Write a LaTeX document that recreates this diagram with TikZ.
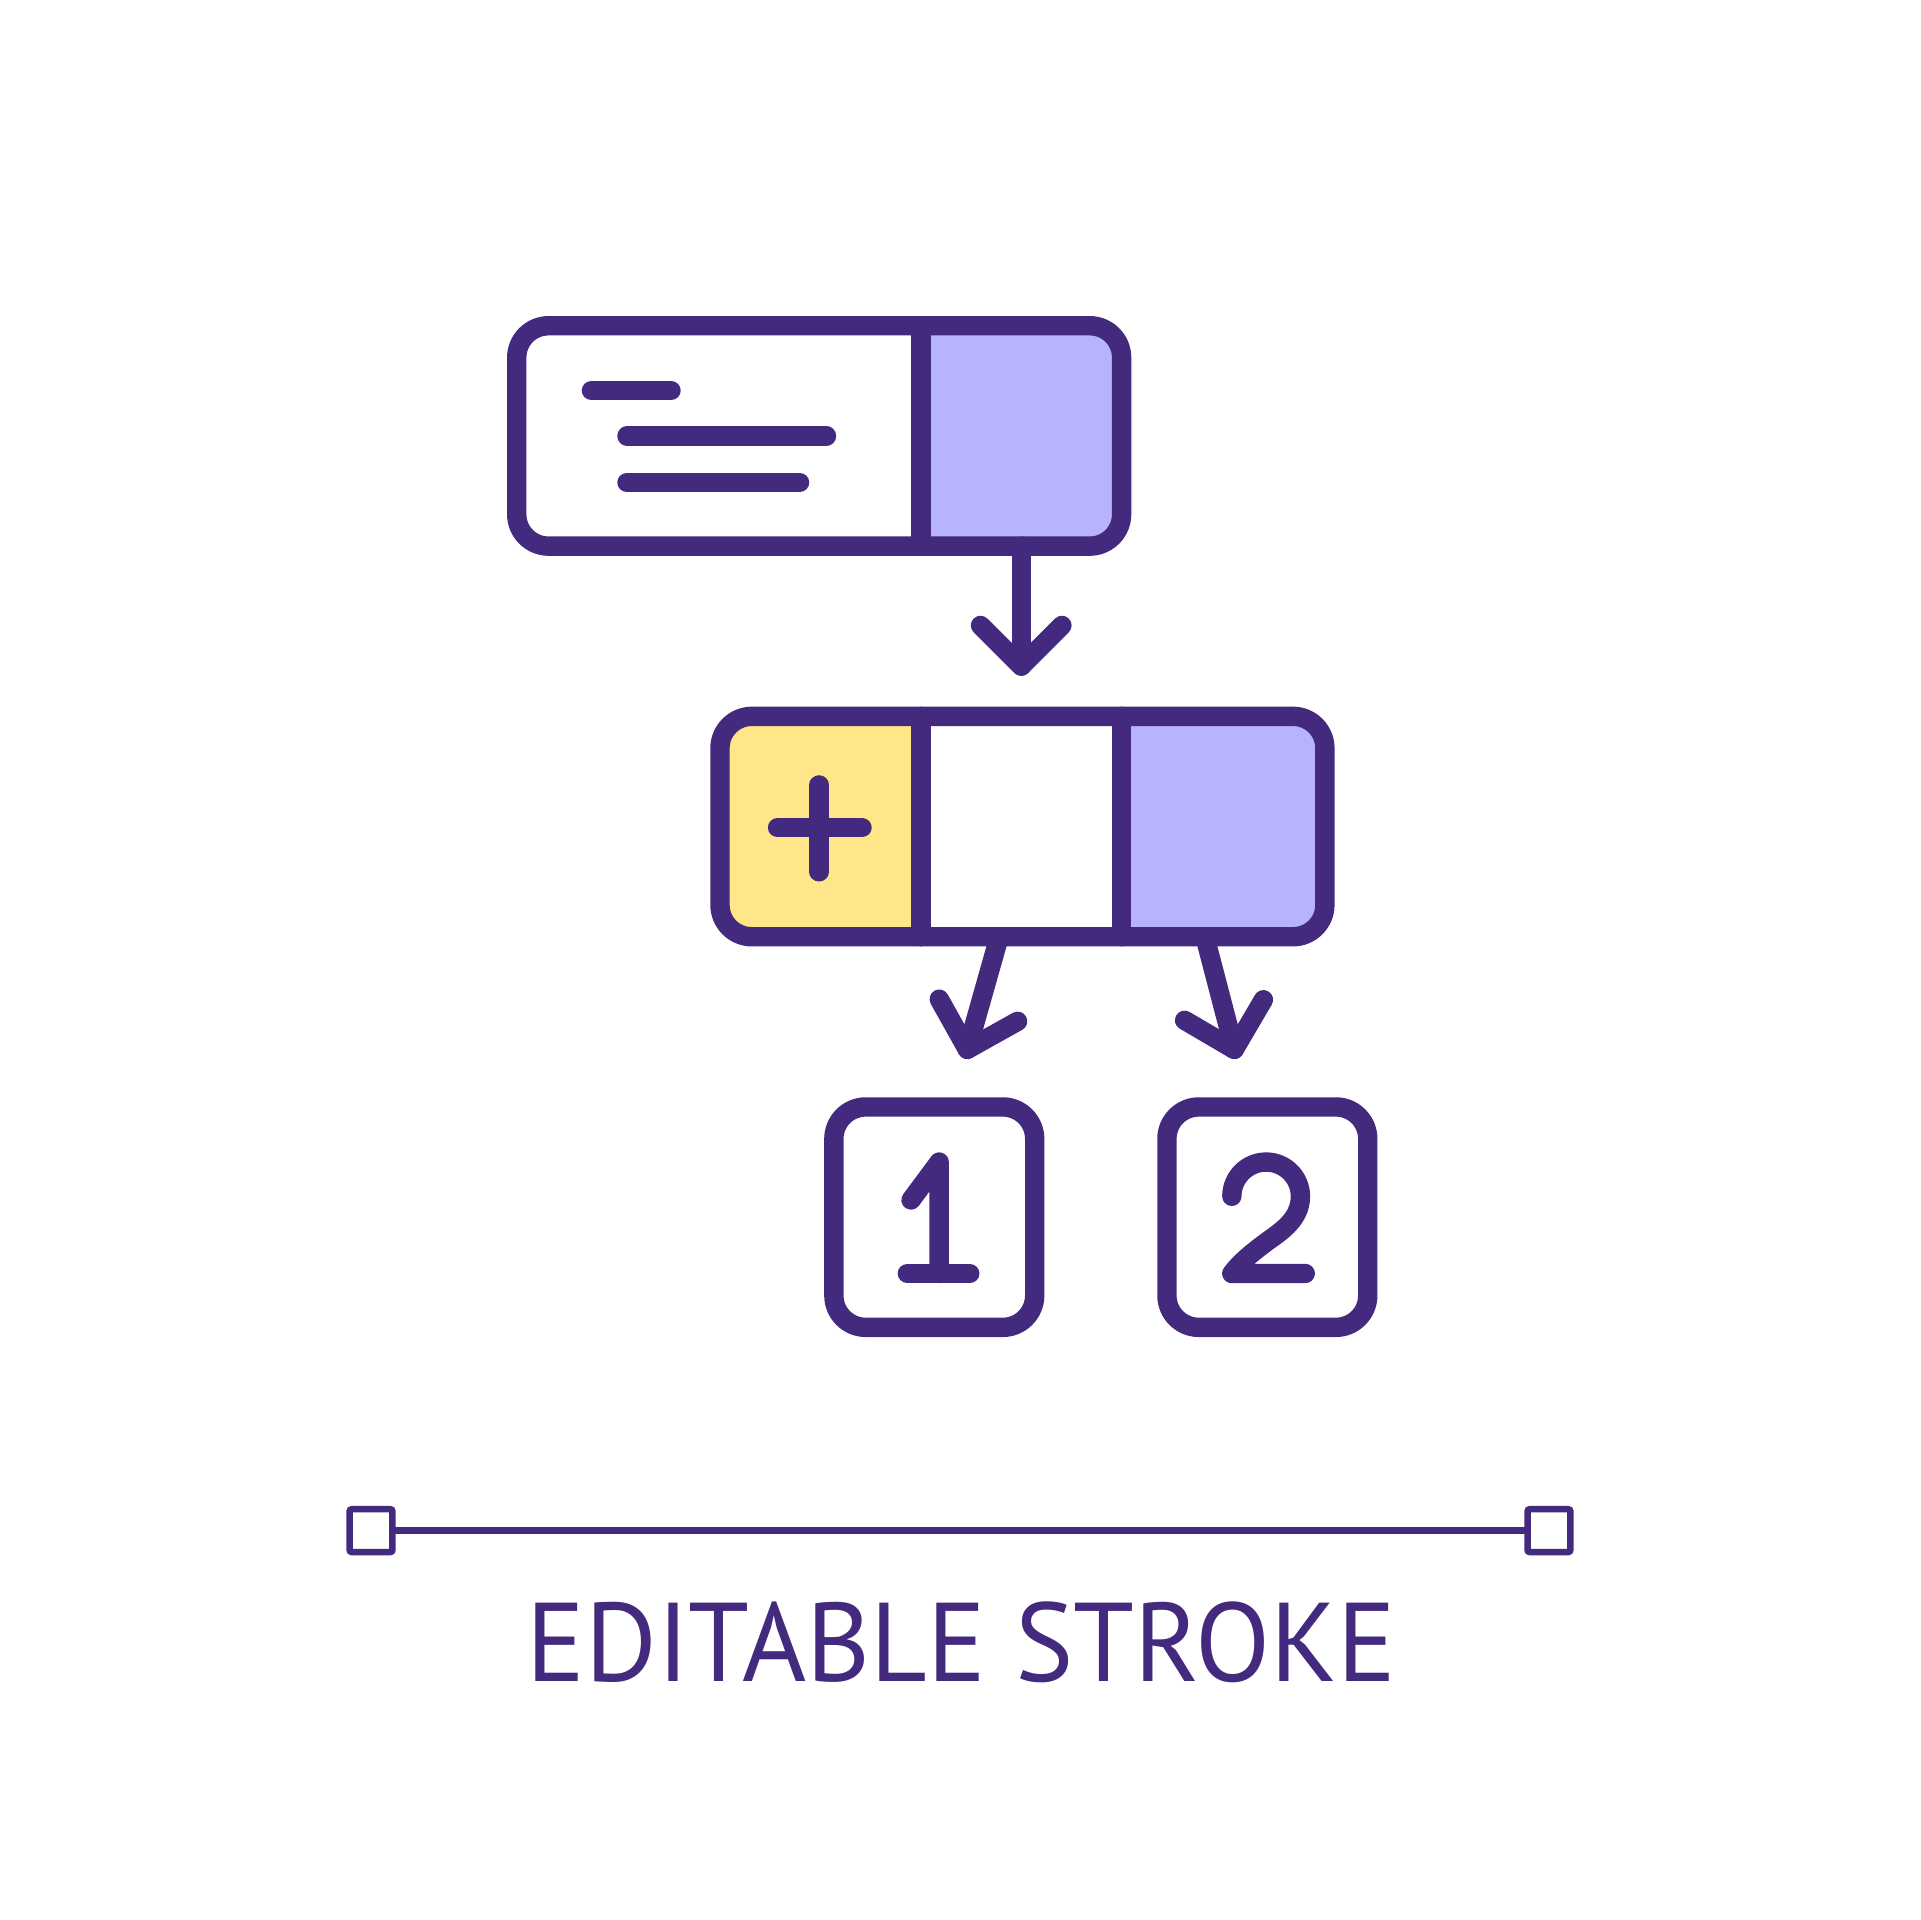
\documentclass[tikz,border=0pt]{standalone}
\usepackage{fontspec}
\newfontfamily\captionfont{PT Sans}
\usepackage{xcolor}
\usetikzlibrary{calc}

\definecolor{ink}{HTML}{432A7E}
\definecolor{lav}{HTML}{B8B3FD}
\definecolor{sun}{HTML}{FFE688}

\tikzset{
  stroke/.style={draw=ink, line width=4.5pt, line cap=round, line join=round},
  frame/.style={stroke, rounded corners=0.26cm},
  thin stroke/.style={draw=ink, line width=1.5pt},
}

\begin{document}
\begin{tikzpicture}[x=0.01cm, y=-0.01cm]
		\fill[white] (0,0) rectangle (1568,1568);
		\useasboundingbox (0,0) rectangle (1568,1568);

		% top box: text lines + coloured part
		\begin{scope}
			\clip (752,0) rectangle (1568,1568);
			\fill[lav, rounded corners=0.26cm] (422,266) rectangle (916,446);
		\end{scope}
		\draw[frame] (422,266) rectangle (916,446);
		\draw[stroke] (752,266) -- (752,446);
		\draw[stroke] (483,319) -- (548,319);
		\draw[stroke] (512,356) -- (675,356);
		\draw[stroke] (512,394) -- (653,394);

		% middle box
		\begin{scope}
			\clip (0,0) rectangle (752,1568);
			\fill[sun, rounded corners=0.26cm] (588,585) rectangle (1082,765);
		\end{scope}
		\begin{scope}
			\clip (916,0) rectangle (1568,1568);
			\fill[lav, rounded corners=0.26cm] (588,585) rectangle (1082,765);
		\end{scope}
		\draw[frame] (588,585) rectangle (1082,765);
		\draw[stroke] (752,585) -- (752,765);
		\draw[stroke] (916,585) -- (916,765);
		\draw[stroke] (669,641) -- (669,712);
		\draw[stroke] (635,676) -- (704,676);

		% number boxes
		\draw[frame] (681,904) rectangle (845,1084);
		\draw[frame] (953,904) rectangle (1117,1084);
		\draw[stroke] (744,980) -- (767,949) -- (767,1040);
		\draw[stroke] (741,1040) -- (792,1040);
		\draw[stroke] (1006,977) arc[start angle=180, end angle=0, radius=0.28cm]
			.. controls (1062,998) and (1042,1008) .. (1032,1016)
			.. controls (1020,1025) and (1012,1032) .. (1006,1040) -- (1066,1040);

		% arrows
		\coordinate (from1) at (834,446);
		\coordinate (tip1) at (834,544);
		\coordinate (from2) at (816,765);
		\coordinate (tip2) at (790,857);
		\coordinate (from3) at (984,765);
		\coordinate (tip3) at (1008,857);
		\foreach \n in {1,2,3} {
			\draw[stroke] (from\n) -- (tip\n);
			\draw[stroke] ($(tip\n)!0.47cm!45:(from\n)$) -- (tip\n) -- ($(tip\n)!0.47cm!-45:(from\n)$);
		}

		% editable stroke bar
		\draw[thin stroke, rounded corners=0.5pt] (285.5,1232.5) rectangle (320.5,1267.5);
		\draw[thin stroke, rounded corners=0.5pt] (1247.5,1232.5) rectangle (1282.5,1267.5);
		\draw[thin stroke] (320.5,1250) -- (1247.5,1250);
		\node[anchor=base, text=ink, inner sep=0pt] (caption) at (785,1373)
			{\scalebox{0.98}[1]{\captionfont\fontsize{26}{26}\selectfont EDITABLE STROKE}};
	\end{tikzpicture}
\end{document}
